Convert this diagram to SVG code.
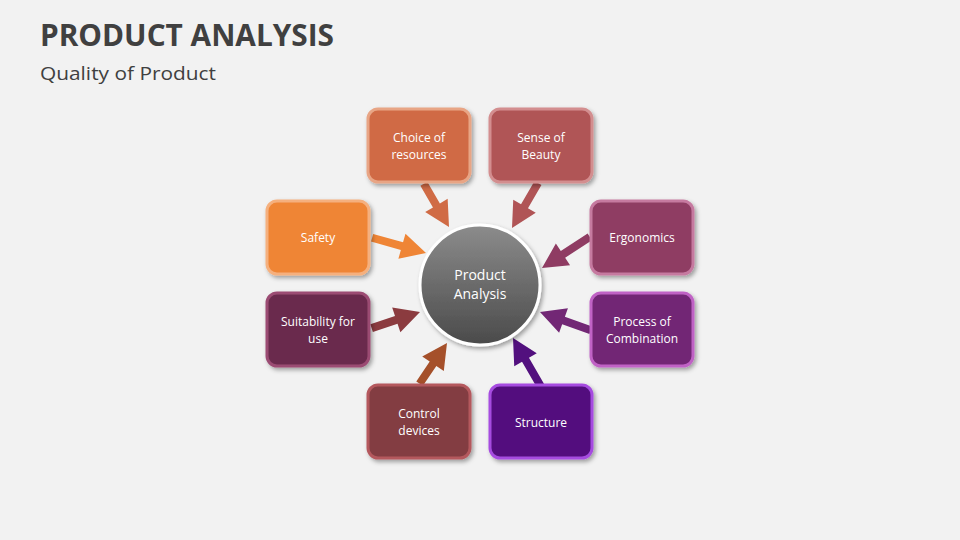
<svg xmlns="http://www.w3.org/2000/svg" width="960" height="540" viewBox="0 0 960 540">
<defs>
<filter id="sh" x="-20%" y="-20%" width="150%" height="150%">
<feDropShadow dx="2" dy="2.5" stdDeviation="2" flood-color="#000" flood-opacity="0.35"/>
</filter>
<linearGradient id="cg" x1="0" y1="0" x2="0" y2="1">
<stop offset="0" stop-color="#8c8c8c"/>
<stop offset="1" stop-color="#4a4a4a"/>
</linearGradient>
<style>
.box{stroke-width:3;filter:url(#sh)}
.t{font-family:"Open Sans","Liberation Sans",sans-serif;font-size:12px;fill:#fff;text-anchor:middle}
.ct{font-family:"Open Sans","Liberation Sans",sans-serif;font-size:14px;fill:#fff;text-anchor:middle}
</style>
</defs>
<rect width="960" height="540" fill="#F2F2F2"/>
<text x="40" y="46" font-family="'Open Sans','Liberation Sans',sans-serif" font-weight="bold" font-size="31" fill="#404040" textLength="294" lengthAdjust="spacingAndGlyphs">PRODUCT ANALYSIS</text>
<text x="40" y="80" font-family="'Open Sans','Liberation Sans',sans-serif" font-size="19" fill="#404040" textLength="176" lengthAdjust="spacingAndGlyphs">Quality of Product</text>

<g id="connectors">
<path transform="translate(449,227) rotate(59.8)" d="M0,0 L-25,-13 L-25,-4 L-50,-4 L-50,4 L-25,4 L-25,13 Z" fill="#D06B45"/>
<path transform="translate(512,228) rotate(120)" d="M0,0 L-25,-13 L-25,-4 L-52,-4 L-52,4 L-25,4 L-25,13 Z" fill="#B05456"/>
<path transform="translate(426,253) rotate(15.8)" d="M0,0 L-25,-13 L-25,-4 L-56,-4 L-56,4 L-25,4 L-25,13 Z" fill="#EF8536"/>
<path transform="translate(542,268) rotate(147)" d="M0,0 L-25,-13 L-25,-4 L-57,-4 L-57,4 L-25,4 L-25,13 Z" fill="#8F3C63"/>
<path transform="translate(420,312) rotate(-18.4)" d="M0,0 L-25,-13 L-25,-4 L-51,-4 L-51,4 L-25,4 L-25,13 Z" fill="#8B3B3F"/>
<path transform="translate(540,312) rotate(199.8)" d="M0,0 L-25,-13 L-25,-4 L-54,-4 L-54,4 L-25,4 L-25,13 Z" fill="#722775"/>
<path transform="translate(447,343) rotate(-56)" d="M0,0 L-25,-13 L-25,-4 L-49,-4 L-49,4 L-25,4 L-25,13 Z" fill="#A5502A"/>
<path transform="translate(513,338) rotate(240)" d="M0,0 L-25,-13 L-25,-4 L-55,-4 L-55,4 L-25,4 L-25,13 Z" fill="#52107E"/>
</g>

<g id="center">
<circle cx="480" cy="285" r="60" fill="url(#cg)" stroke="#fff" stroke-width="3" filter="url(#sh)"/>
<text class="ct" x="480" y="280">Product</text>
<text class="ct" x="480" y="299">Analysis</text>
</g>

<g id="choice">
<rect class="box" x="368" y="109" width="102" height="73" rx="10" fill="#D06B45" stroke="#E8A585"/>
<text class="t" x="419" y="142">Choice of</text>
<text class="t" x="419" y="159">resources</text>
</g>
<g id="beauty">
<rect class="box" x="490" y="109" width="102" height="73" rx="10" fill="#B05456" stroke="#D38E8F"/>
<text class="t" x="541" y="142">Sense of</text>
<text class="t" x="541" y="159">Beauty</text>
</g>
<g id="safety">
<rect class="box" x="267" y="201" width="102" height="73" rx="10" fill="#EF8536" stroke="#F5B07E"/>
<text class="t" x="318" y="242">Safety</text>
</g>
<g id="ergonomics">
<rect class="box" x="591" y="201" width="102" height="73" rx="10" fill="#8F3C63" stroke="#C67AA0"/>
<text class="t" x="642" y="242">Ergonomics</text>
</g>
<g id="suitability">
<rect class="box" x="267" y="293" width="102" height="73" rx="10" fill="#6B2C4E" stroke="#9B4C73"/>
<text class="t" x="318" y="326">Suitability for</text>
<text class="t" x="318" y="343">use</text>
</g>
<g id="process">
<rect class="box" x="591" y="293" width="102" height="73" rx="10" fill="#722775" stroke="#C062C5"/>
<text class="t" x="642" y="326">Process of</text>
<text class="t" x="642" y="343">Combination</text>
</g>
<g id="control">
<rect class="box" x="368" y="385" width="102" height="73" rx="10" fill="#833E42" stroke="#B4585D"/>
<text class="t" x="419" y="418">Control</text>
<text class="t" x="419" y="435">devices</text>
</g>
<g id="structure">
<rect class="box" x="490" y="385" width="102" height="73" rx="10" fill="#52107E" stroke="#A64BE0"/>
<text class="t" x="541" y="427">Structure</text>
</g>
</svg>
